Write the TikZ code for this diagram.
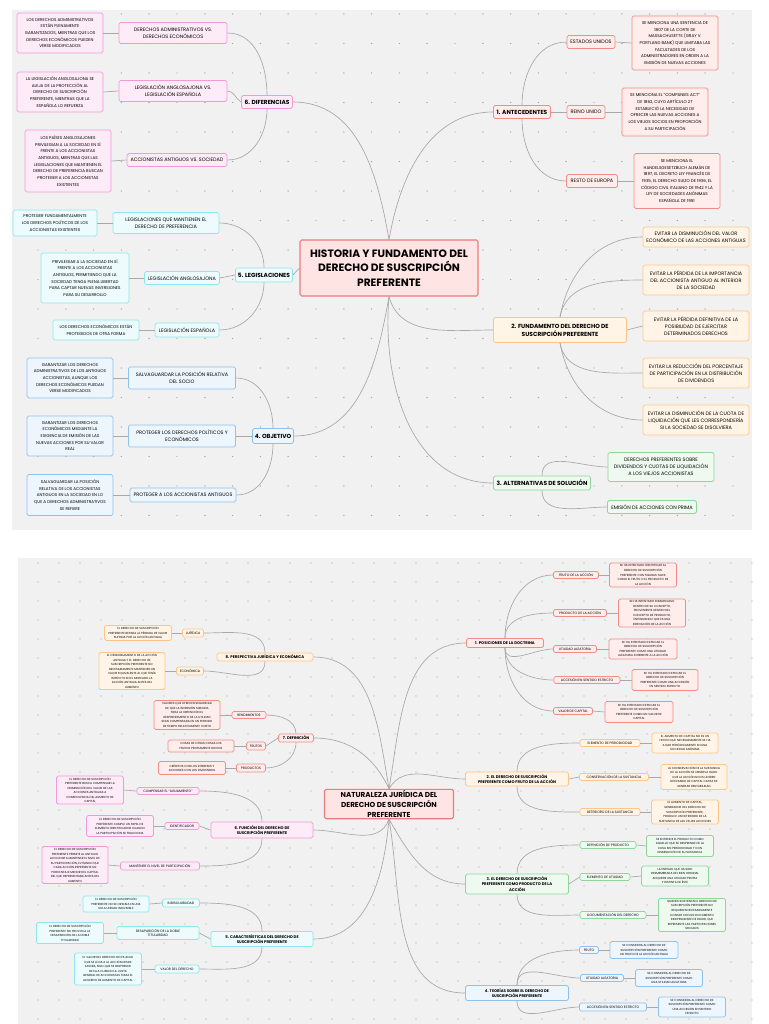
\documentclass[tikz,border=0pt]{standalone}
\usepackage{fontspec}
\setmainfont{Poppins}
\definecolor{bgc}{HTML}{F1F1F1}
\definecolor{dotc}{HTML}{9DAAAA}
\definecolor{linec}{HTML}{A8A8A8}
\definecolor{redD}{HTML}{F28C86}\definecolor{redF}{HTML}{FFEDEB}
\definecolor{cenD}{HTML}{EE7B7B}\definecolor{cenF}{HTML}{FFE4E4}
\definecolor{orgD}{HTML}{FFC48A}\definecolor{orgF}{HTML}{FFF4E6}
\definecolor{grnD}{HTML}{8FD69A}\definecolor{grnF}{HTML}{EEF9F0}
\definecolor{bluD}{HTML}{8EC1EE}\definecolor{bluF}{HTML}{EEF6FD}
\definecolor{cynD}{HTML}{8EE6EC}\definecolor{cynF}{HTML}{EDFBFC}
\definecolor{pnkD}{HTML}{F29AD8}\definecolor{pnkF}{HTML}{FDEBF7}
\tikzset{
 nb/.style={draw, rounded corners=1.2pt, line width=0.6pt, align=center, inner sep=1pt},
 sred/.style={nb, draw=redD, fill=redF},
 scen/.style={nb, draw=cenD, fill=cenF, line width=0.8pt},
 sorg/.style={nb, draw=orgD, fill=orgF},
 sgrn/.style={nb, draw=grnD, fill=grnF},
 sblu/.style={nb, draw=bluD, fill=bluF},
 scyn/.style={nb, draw=cynD, fill=cynF},
 spnk/.style={nb, draw=pnkD, fill=pnkF},
 wd/.style={minimum width=#1*0.75pt},
 ht/.style={minimum height=#1*0.75pt},
 td/.style={font=\fontsize{3.1}{5}\selectfont},
 tl/.style={font=\fontsize{3.7}{5.4}\selectfont},
 tb/.style={font=\bfseries\fontsize{4.4}{6}\selectfont},
 tt/.style={font=\bfseries\fontsize{8}{11}\selectfont},
 bd/.style={font=\fontsize{2.2}{3.4}\selectfont},
 bl/.style={font=\fontsize{2.5}{3.5}\selectfont},
 bb/.style={font=\bfseries\fontsize{2.9}{4}\selectfont},
 bt/.style={font=\bfseries\fontsize{5.4}{7.4}\selectfont},
 con/.style={draw=linec, line width=0.5pt},
}
\begin{document}
\begin{tikzpicture}[x=0.75pt,y=-0.75pt]
\useasboundingbox (0,0) rectangle (768,1024);
\fill[white] (0,0) rectangle (768,1024);
\fill[bgc] (12,10) rectangle (752,530);
\fill[bgc] (18,558) rectangle (752,1024);
\foreach \i in {0,...,25}{\foreach \j in {0,...,17}{\fill[dotc] (38+\i*27.8,14+\j*29.5) circle (0.55pt);}}
\foreach \i in {0,...,34}{\foreach \j in {0,...,24}{\fill[dotc] (38+\i*21,563+\j*19) circle (0.45pt);}}

% ================= TOP =================
\node[scen,tt,wd=178,ht=56] (c) at (389,268) {HISTORIA Y FUNDAMENTO DEL\\DERECHO DE SUSCRIPCIÓN\\PREFERENTE};
% 1
\node[sred,tb,wd=57,ht=13] (b1) at (522,112) {1. ANTECEDENTES};
\node[sred,tl,wd=48,ht=13] (b1a) at (591,42) {ESTADOS UNIDOS};
\node[sred,td,wd=86,ht=54] (b1ad) at (675,43) {SE MENCIONA UNA SENTENCIA DE\\1807 DE LA CORTE DE\\MASSACHUSETTS (GRAY V.\\PORTLAND BANK) QUE LIMITABA LAS\\FACULTADES DE LOS\\ADMINISTRADORES EN ORDEN A LA\\EMISIÓN DE NUEVAS ACCIONES};
\node[sred,tl,wd=38,ht=13] (b1b) at (586,112) {REINO UNIDO};
\node[sred,td,wd=86,ht=48] (b1bd) at (665,112) {SE MENCIONA EL ``COMPANIES ACT''\\DE 1862, CUYO ARTÍCULO 27\\ESTABLECIÓ LA NECESIDAD DE\\OFRECER LAS NUEVAS ACCIONES A\\LOS VIEJOS SOCIOS EN PROPORCIÓN\\A SU PARTICIPACIÓN};
\node[sred,tl,wd=51,ht=13] (b1c) at (592,181) {RESTO DE EUROPA};
\node[sred,td,wd=86,ht=55] (b1cd) at (677,181) {SE MENCIONA EL\\HANDELSGESETZBUCH ALEMÁN DE\\1897, EL DECRETO LEY FRANCÉS DE\\1935, EL DERECHO SUIZO DE 1936, EL\\CÓDIGO CIVIL ITALIANO DE 1942 Y LA\\LEY DE SOCIEDADES ANÓNIMAS\\ESPAÑOLA DE 1951};
% 2
\node[sorg,tb,wd=133,ht=25] (b2) at (560,330) {2. FUNDAMENTO DEL DERECHO DE\\SUSCRIPCIÓN PREFERENTE};
\node[sorg,tl,wd=106,ht=20] (b2a) at (696,237) {EVITAR LA DISMINUCIÓN DEL VALOR\\ECONÓMICO DE LAS ACCIONES ANTIGUAS};
\node[sorg,tl,wd=106,ht=30] (b2b) at (696,280) {EVITAR LA PÉRDIDA DE LA IMPORTANCIA\\DEL ACCIONISTA ANTIGUO AL INTERIOR\\DE LA SOCIEDAD};
\node[sorg,tl,wd=106,ht=30] (b2c) at (696,326) {EVITAR LA PÉRDIDA DEFINITIVA DE LA\\POSIBILIDAD DE EJERCITAR\\DETERMINADOS DERECHOS};
\node[sorg,tl,wd=106,ht=30] (b2d) at (696,373) {EVITAR LA REDUCCIÓN DEL PORCENTAJE\\DE PARTICIPACIÓN EN LA DISTRIBUCIÓN\\DE DIVIDENDOS};
\node[sorg,tl,wd=106,ht=30] (b2e) at (696,420) {EVITAR LA DISMINUCIÓN DE LA CUOTA DE\\LIQUIDACIÓN QUE LES CORRESPONDERÍA\\SI LA SOCIEDAD SE DISOLVIERA};
% 3
\node[sgrn,tb,wd=97,ht=14] (b3) at (542,483) {3. ALTERNATIVAS DE SOLUCIÓN};
\node[sgrn,tl,wd=106,ht=29] (b3a) at (661,467) {DERECHOS PREFERENTES SOBRE\\DIVIDENDOS Y CUOTAS DE LIQUIDACIÓN\\A LOS VIEJOS ACCIONISTAS};
\node[sgrn,tl,wd=89,ht=13] (b3b) at (652,507) {EMISIÓN DE ACCIONES CON PRIMA};
% 4
\node[sblu,tb,wd=41,ht=15] (b4) at (273,436) {4. OBJETIVO};
\node[sblu,tl,wd=107,ht=22] (b4a) at (182,378) {SALVAGUARDAR LA POSICIÓN RELATIVA\\DEL SOCIO};
\node[sblu,td,wd=86,ht=40] (b4ad) at (70,378) {GARANTIZAR LOS DERECHOS\\ADMINISTRATIVOS DE LOS ANTIGUOS\\ACCIONISTAS, AUNQUE LOS\\DERECHOS ECONÓMICOS PUEDAN\\VERSE MODIFICADOS};
\node[sblu,tl,wd=107,ht=22] (b4b) at (182,436) {PROTEGER LOS DERECHOS POLÍTICOS Y\\ECONÓMICOS};
\node[sblu,td,wd=86,ht=40] (b4bd) at (70,436) {GARANTIZAR LOS DERECHOS\\ECONÓMICOS MEDIANTE LA\\EXIGENCIA DE EMISIÓN DE LAS\\NUEVAS ACCIONES POR SU VALOR\\REAL};
\node[sblu,tl,wd=106,ht=14] (b4c) at (183,495) {PROTEGER A LOS ACCIONISTAS ANTIGUOS};
\node[sblu,td,wd=86,ht=41] (b4cd) at (70,495) {SALVAGUARDAR LA POSICIÓN\\RELATIVA DE LOS ACCIONISTAS\\ANTIGUOS EN LA SOCIEDAD EN LO\\QUE A DERECHOS ADMINISTRATIVOS\\SE REFIERE};
% 5
\node[scyn,tb,wd=57,ht=14] (b5) at (264,275) {5. LEGISLACIONES};
\node[scyn,tl,wd=106,ht=21] (b5a) at (166,223) {LEGISLACIONES QUE MANTIENEN EL\\DERECHO DE PREFERENCIA};
\node[scyn,td,wd=84,ht=26] (b5ad) at (55,223) {PROTEGER FUNDAMENTALMENTE\\LOS DERECHOS POLÍTICOS DE LOS\\ACCIONISTAS EXISTENTES};
\node[scyn,tl,wd=75,ht=13] (b5b) at (182,278) {LEGISLACIÓN ANGLOSAJONA};
\node[scyn,td,wd=88,ht=50] (b5bd) at (85,278) {PRIVILEGIAR A LA SOCIEDAD EN SÍ\\FRENTE A LOS ACCIONISTAS\\ANTIGUOS, PERMITIENDO QUE LA\\SOCIEDAD TENGA PLENA LIBERTAD\\PARA CAPTAR NUEVAS INVERSIONES\\PARA SU DESARROLLO};
\node[scyn,tl,wd=64,ht=14] (b5c) at (187,330) {LEGISLACIÓN ESPAÑOLA};
\node[scyn,td,wd=86,ht=20] (b5cd) at (96,330) {LOS DERECHOS ECONÓMICOS ESTÁN\\PROTEGIDOS DE OTRA FORMA};
% 6
\node[spnk,tb,wd=51,ht=13] (b6) at (267,102) {6. DIFERENCIAS};
\node[spnk,tl,wd=108,ht=21] (b6a) at (173,33) {DERECHOS ADMINISTRATIVOS VS.\\DERECHOS ECONÓMICOS};
\node[spnk,td,wd=86,ht=40] (b6ad) at (60,33) {LOS DERECHOS ADMINISTRATIVOS\\ESTÁN PLENAMENTE\\GARANTIZADOS, MIENTRAS QUE LOS\\DERECHOS ECONÓMICOS PUEDEN\\VERSE MODIFICADOS};
\node[spnk,tl,wd=108,ht=21] (b6b) at (173,91) {LEGISLACIÓN ANGLOSAJONA VS.\\LEGISLACIÓN ESPAÑOLA};
\node[spnk,td,wd=86,ht=40] (b6bd) at (60,92) {LA LEGISLACIÓN ANGLOSAJONA SE\\ALEJA DE LA PROTECCIÓN AL\\DERECHO DE SUSCRIPCIÓN\\PREFERENTE, MIENTRAS QUE LA\\ESPAÑOLA LO REFUERZA};
\node[spnk,tl,wd=100,ht=13] (b6c) at (177,160) {ACCIONISTAS ANTIGUOS VS. SOCIEDAD};
\node[spnk,td,wd=86,ht=62] (b6cd) at (68,161) {LOS PAÍSES ANGLOSAJONES\\PRIVILEGIAN A LA SOCIEDAD EN SÍ\\FRENTE A LOS ACCIONISTAS\\ANTIGUOS, MIENTRAS QUE LAS\\LEGISLACIONES QUE MANTIENEN EL\\DERECHO DE PREFERENCIA BUSCAN\\PROTEGER A LOS ACCIONISTAS\\EXISTENTES};

\begin{pgfinterruptboundingbox}
\path[con] (c.north) to[out=80,in=180] (b1.west);
\path[con] (c.north) to[out=100,in=0] (b6.east);
\path[con] (c.south) to[out=-75,in=180] (b2.west);
\path[con] (c.south) to[out=-95,in=180] (b3.west);
\path[con] (c.south) to[out=-100,in=0] (b4.east);
\path[con] (c.west) -- (b5.east);
\path[con] (b1.north) to[out=90,in=180] (b1a.west);
\path[con] (b1.east) -- (b1b.west);
\path[con] (b1.south) to[out=-90,in=180] (b1c.west);
\path[con] (b1a.east) -- (b1ad.west);
\path[con] (b1b.east) -- (b1bd.west);
\path[con] (b1c.east) -- (b1cd.west);
\path[con] (b2.north) to[out=80,in=180] (b2a.west);
\path[con] (b2.north) to[out=80,in=180] (b2b.west);
\path[con] (b2.east) -- (b2c.west);
\path[con] (b2.south) to[out=-80,in=180] (b2d.west);
\path[con] (b2.south) to[out=-80,in=180] (b2e.west);
\path[con] (b3.north) to[out=90,in=180] (b3a.west);
\path[con] (b3.south) to[out=-90,in=180] (b3b.west);
\path[con] (b4.north) to[out=90,in=0] (b4a.east);
\path[con] (b4.west) -- (b4b.east);
\path[con] (b4.south) to[out=-90,in=0] (b4c.east);
\path[con] (b4a.west) -- (b4ad.east);
\path[con] (b4b.west) -- (b4bd.east);
\path[con] (b4c.west) -- (b4cd.east);
\path[con] (b5.north) to[out=90,in=0] (b5a.east);
\path[con] (b5.west) -- (b5b.east);
\path[con] (b5.south) to[out=-90,in=0] (b5c.east);
\path[con] (b5a.west) -- (b5ad.east);
\path[con] (b5b.west) -- (b5bd.east);
\path[con] (b5c.west) -- (b5cd.east);
\path[con] (b6.north) to[out=90,in=0] (b6a.east);
\path[con] (b6.west) to[out=150,in=0] (b6b.east);
\path[con] (b6.south) to[out=-90,in=0] (b6c.east);
\path[con] (b6a.west) -- (b6ad.east);
\path[con] (b6b.west) -- (b6bd.east);
\path[con] (b6c.west) -- (b6cd.east);
\end{pgfinterruptboundingbox}

% ================= BOTTOM =================
\node[scen,bt,wd=129,ht=29] (k) at (389,804) {NATURALEZA JURÍDICA DEL\\DERECHO DE SUSCRIPCIÓN\\PREFERENTE};
% P1
\node[sred,bb,wd=77,ht=9] (p1) at (505,643) {1. POSICIONES DE LA DOCTRINA};
\node[sred,bl,wd=45,ht=7] (p1a) at (576,575) {FRUTO DE LA ACCIÓN};
\node[sred,bd,wd=67,ht=24] (p1ad) at (643,575) {SE HA INTENTADO IDENTIFICAR AL\\DERECHO DE SUSCRIPCIÓN\\PREFERENTE CON FIGURAS TALES\\COMO EL FRUTO O EL PRODUCTO DE\\LA ACCIÓN};
\node[sred,bl,wd=53,ht=7] (p1b) at (580,613) {PRODUCTO DE LA ACCIÓN};
\node[sred,bd,wd=67,ht=28] (p1bd) at (652,613) {SE HA INTENTADO ENMARCARLO\\DENTRO DE SU CONCEPTO,\\PROVENIENTE DENTRO DEL\\CONCEPTO DE PRODUCTO,\\ENTENDIENDO QUE ES UNA\\DERIVACIÓN DE LA ACCIÓN};
\node[sred,bl,wd=43,ht=7] (p1c) at (575,649) {UTILIDAD ALEATORIA};
\node[sred,bd,wd=68,ht=20] (p1cd) at (643,649) {SE HA INTENTADO EXPLICAR EL\\DERECHO DE SUSCRIPCIÓN\\PREFERENTE COMO UNA UTILIDAD\\ALEATORIA INHERENTE A LA ACCIÓN};
\node[sred,bl,wd=66,ht=7] (p1d) at (587,680) {ACCESIÓN EN SENTIDO ESTRICTO};
\node[sred,bd,wd=66,ht=21] (p1dd) at (665,680) {SE HA INTENTADO EXPLICAR EL\\DERECHO DE SUSCRIPCIÓN\\PREFERENTE COMO UNA ACCESIÓN\\EN SENTIDO ESTRICTO};
\node[sred,bl,wd=39,ht=7] (p1e) at (573,711) {VALOR DE CAPITAL};
\node[sred,bd,wd=68,ht=21] (p1ed) at (639,712) {SE HA INTENTADO EXPLICAR EL\\DERECHO DE SUSCRIPCIÓN\\PREFERENTE COMO UN VALOR DE\\CAPITAL};
% P2
\node[sorg,bb,wd=103,ht=14] (p2) at (517,779) {2. EL DERECHO DE SUSCRIPCIÓN\\PREFERENTE COMO FRUTO DE LA ACCIÓN};
\node[sorg,bl,wd=60,ht=7] (p2a) at (610,743) {ELEMENTO DE PERIODICIDAD};
\node[sorg,bd,wd=66,ht=20] (p2ad) at (685,743) {EL AUMENTO DE CAPITAL NO ES UN\\HECHO QUE NECESARIAMENTE SE HA\\A DAR PERIÓDICAMENTE EN UNA\\SOCIEDAD ANÓNIMA};
\node[sorg,bl,wd=69,ht=7] (p2b) at (614,777) {CONSERVACIÓN DE LA SUSTANCIA};
\node[sorg,bd,wd=66,ht=25] (p2bd) at (694,777) {LA CONSERVACIÓN DE LA SUSTANCIA\\DE LA ACCIÓN SE OBSERVA DADO\\QUE LA ACCIÓN NO ES UN BIEN\\NECESARIO DE CAPITAL CAPAZ DE\\GENERAR RENTABILIDAD};
\node[sorg,bl,wd=60,ht=7] (p2c) at (610,812) {DETERIORO DE LA SUSTANCIA};
\node[sorg,bd,wd=67,ht=24] (p2cd) at (685,812) {EL AUMENTO DE CAPITAL,\\GENERADOR DEL DERECHO DE\\SUSCRIPCIÓN PREFERENTE,\\PRODUCE UN DETERIORO DE LA\\SUSTANCIA DE LAS VIEJAS ACCIONES};
% P3
\node[sgrn,bb,wd=103,ht=20] (p3) at (517,884) {3. EL DERECHO DE SUSCRIPCIÓN\\PREFERENTE COMO PRODUCTO DE LA\\ACCIÓN};
\node[sgrn,bl,wd=56,ht=7] (p3a) at (608,845) {DEFINICIÓN DE PRODUCTO};
\node[sgrn,bd,wd=67,ht=21] (p3ad) at (680,846) {SE ENTIENDE EL PRODUCTO COMO\\AQUELLO QUE SE DESPRENDE DE LA\\COSA SIN PERIODICIDAD Y CON\\DISMINUCIÓN DE SU SUSTANCIA};
\node[sgrn,bl,wd=50,ht=7] (p3b) at (605,877) {ELEMENTO DE UTILIDAD};
\node[sgrn,bd,wd=67,ht=20] (p3bd) at (675,876) {LA ENTIDAD QUE HA SIDO\\DESMEMBRADA DEL BIEN ORIGINAL\\ADQUIERE UNA UTILIDAD PROPIA\\Y DISTINTA DE ÉSTE};
\node[sgrn,bl,wd=66,ht=7] (p3c) at (613,915) {DOCUMENTACIÓN DEL DERECHO};
\node[sgrn,bd,wd=67,ht=33] (p3cd) at (692,915) {QUIENES SOSTIENEN EL DERECHO DE\\SUSCRIPCIÓN PREFERENTE NO\\REQUIEREN NECESARIAMENTE\\CONTAR CON UN DOCUMENTO\\INDEPENDIENTE DE RIGOR, QUE\\REPRESENTE LAS PARTICIPACIONES\\SOCIALES};
% P4
\node[sblu,bb,wd=103,ht=15] (p4) at (517,993) {4. TEORÍAS SOBRE EL DERECHO DE\\SUSCRIPCIÓN PREFERENTE};
\node[sblu,bl,wd=19,ht=7] (p4a) at (589,950) {FRUTO};
\node[sblu,bd,wd=68,ht=17] (p4ad) at (644,950) {SE CONSIDERA AL DERECHO DE\\SUSCRIPCIÓN PREFERENTE COMO\\UN FRUTO DE LA ACCIÓN ANTIGUA};
\node[sblu,bl,wd=43,ht=7] (p4b) at (602,978) {UTILIDAD ALEATORIA};
\node[sblu,bd,wd=67,ht=17] (p4bd) at (669,978) {SE CONSIDERA AL DERECHO DE\\SUSCRIPCIÓN PREFERENTE COMO\\UNA UTILIDAD ALEATORIA};
\node[sblu,bl,wd=67,ht=8] (p4c) at (613,1007) {ACCESIÓN EN SENTIDO ESTRICTO};
\node[sblu,bd,wd=67,ht=20] (p4cd) at (692,1007) {SE CONSIDERA AL DERECHO DE\\SUSCRIPCIÓN PREFERENTE COMO\\UNA ACCESIÓN EN SENTIDO\\ESTRICTO};
% L8
\node[sorg,bb,wd=96,ht=8] (l8) at (265,657) {8. PERSPECTIVA JURÍDICA Y ECONÓMICA};
\node[sorg,bl,wd=21,ht=8] (l8a) at (193,633) {JURÍDICA};
\node[sorg,bd,wd=67,ht=15] (l8ad) at (138,633) {EL DERECHO DE SUSCRIPCIÓN\\PREFERENTE REPARA LA PÉRDIDA DE VALOR\\SUFRIDA POR LA ACCIÓN ANTIGUA};
\node[sorg,bl,wd=27,ht=8] (l8b) at (190,671) {ECONÓMICA};
\node[sorg,bd,wd=66,ht=37] (l8bd) at (132,671) {EL DESDOBLAMIENTO DE LA ACCIÓN\\ANTIGUA Y EL DERECHO DE\\SUSCRIPCIÓN PREFERENTE NO\\NECESARIAMENTE MANTIENEN UN\\VALOR EQUIVALENTE AL QUE TENÍA\\IMPLÍCITO EN EL MERCADO LA\\ACCIÓN ANTIGUA ANTES DEL\\AUMENTO};
% L7
\node[sred,bb,wd=35,ht=8] (l7) at (296,738) {7. DEFINICIÓN};
\node[sred,bl,wd=34,ht=7] (l7a) at (249,715) {RENDIMIENTOS};
\node[sred,bd,wd=66,ht=29] (l7ad) at (187,715) {VALORES QUE OFRECEN SEGURIDAD\\DE QUE LA INVERSIÓN SURGIDA\\PARA LA OBTENCIÓN EL\\DESPRENDIMIENTO DE LA UTILIDAD\\SEAN COMPENSADA EN UN PERIODO\\DE TIEMPO RELATIVAMENTE CORTO};
\node[sred,bl,wd=19,ht=8] (l7b) at (256,746) {FRUTOS};
\node[sred,bd,wd=66,ht=12] (l7bd) at (201,746) {COSAS DE OTRAS COSAS LOS\\FRUTOS PROPIAMENTE DICHOS};
\node[sred,bl,wd=29,ht=8] (l7c) at (251,768) {PRODUCTOS};
\node[sred,bd,wd=67,ht=13] (l7cd) at (192,768) {CRÉDITOS CON LOS INTERESES Y\\ACCIONES CON LOS DIVIDENDOS};
% L6
\node[spnk,bb,wd=102,ht=16] (l6) at (262,830) {6. FUNCIÓN DEL DERECHO DE\\SUSCRIPCIÓN PREFERENTE};
\node[spnk,bl,wd=62,ht=7] (l6a) at (168,791) {COMPENSAR EL ``AGUAMIENTO''};
\node[spnk,bd,wd=67,ht=28] (l6ad) at (90,790) {EL DERECHO DE SUSCRIPCIÓN\\PREFERENTE BUSCA COMPENSAR LA\\DISMINUCIÓN DEL VALOR DE LAS\\ACCIONES ANTIGUAS A\\CONSECUENCIA DEL AUMENTO DE\\CAPITAL};
\node[spnk,bl,wd=34,ht=7] (l6b) at (182,826) {IDENTIFICADOR};
\node[spnk,bd,wd=67,ht=21] (l6bd) at (120,826) {EL DERECHO DE SUSCRIPCIÓN\\PREFERENTE CUMPLE UN PAPEL DE\\ELEMENTO IDENTIFICADOR CUANDO\\LA PARTICIPACIÓN SE FRACCIONA};
\node[spnk,bl,wd=79,ht=8] (l6c) at (160,866) {MANTENER EL NIVEL DE PARTICIPACIÓN};
\node[spnk,bd,wd=66,ht=37] (l6cd) at (75,865) {EL DERECHO DE SUSCRIPCIÓN\\PREFERENTE PERMITE AL ANTIGUO\\ACCIONISTA MANTENER EL NIVEL DE\\SU PARTICIPACIÓN, EVITANDO QUE\\CADA ACCIÓN REPRESENTE UN\\PORCENTAJE MENOR DEL CAPITAL\\DEL QUE REPRESENTABA ANTES DEL\\AUMENTO};
% L5
\node[scyn,bb,wd=102,ht=15] (l5) at (262,939) {5. CARACTERÍSTICAS DEL DERECHO DE\\SUSCRIPCIÓN PREFERENTE};
\node[scyn,bl,wd=37,ht=8] (l5a) at (181,903) {INDISOLUBILIDAD};
\node[scyn,bd,wd=66,ht=16] (l5ad) at (116,904) {EL DERECHO DE SUSCRIPCIÓN\\PREFERENTE NO SE ORIGINA EN UNA\\SOLA UNIDAD INDIVISIBLE};
\node[scyn,bl,wd=82,ht=13] (l5b) at (158,933) {DESAPARICIÓN DE LA DOBLE\\TITULARIDAD};
\node[scyn,bd,wd=67,ht=21] (l5bd) at (70,933) {EL DERECHO DE SUSCRIPCIÓN\\PREFERENTE NO PROVOCA LA\\DESAPARICIÓN DE LA DOBLE\\TITULARIDAD};
\node[scyn,bl,wd=44,ht=8] (l5c) at (177,969) {VALOR DEL DERECHO};
\node[scyn,bd,wd=67,ht=32] (l5cd) at (108,969) {EL VALOR DEL DERECHO NO ES ALGO\\QUE SE LE DA A LA ACCIÓN DESDE\\AFUERA, SINO QUE SE DESPRENDE\\DE ELLA CUANDO LA JUNTA\\GENERAL DE ACCIONISTAS TOMA EL\\ACUERDO DE AUMENTO DE CAPITAL};

\begin{pgfinterruptboundingbox}
\path[con] (k.north) to[out=80,in=180] (p1.west);
\path[con] (k.north) to[out=60,in=180] (p2.west);
\path[con] (k.south) to[out=-60,in=180] (p3.west);
\path[con] (k.south) to[out=-80,in=180] (p4.west);
\path[con] (k.north) to[out=100,in=0] (l8.east);
\path[con] (k.north) to[out=115,in=0] (l7.east);
\path[con] (k.south) to[out=-110,in=0] (l6.east);
\path[con] (k.south) to[out=-95,in=0] (l5.east);
\foreach \b/\ch in {p1/p1a,p1/p1b,p2/p2a,p3/p3a,p4/p4a,p4/p4b}{\path[con] (\b.north) to[out=90,in=180] (\ch.west);}
\foreach \b/\ch in {p1/p1c,p1/p1d,p1/p1e,p2/p2c,p3/p3c,p4/p4c}{\path[con] (\b.south) to[out=-90,in=180] (\ch.west);}
\foreach \b/\ch in {p2/p2b,p3/p3b}{\path[con] (\b.east) -- (\ch.west);}
\foreach \ch in {p1a,p1b,p1c,p1d,p1e,p2a,p2b,p2c,p3a,p3b,p3c,p4a,p4b,p4c}{\path[con] (\ch.east) -- (\ch d.west);}
\foreach \b/\ch in {l8/l8a,l7/l7a,l6/l6a,l5/l5a}{\path[con] (\b.north) to[out=90,in=0] (\ch.east);}
\foreach \b/\ch in {l8/l8b,l7/l7c,l6/l6c,l5/l5c}{\path[con] (\b.south) to[out=-90,in=0] (\ch.east);}
\foreach \b/\ch in {l7/l7b,l6/l6b,l5/l5b}{\path[con] (\b.west) -- (\ch.east);}
\foreach \ch in {l8a,l8b,l7a,l7b,l7c,l6a,l6b,l6c,l5a,l5b,l5c}{\path[con] (\ch.west) -- (\ch d.east);}
\end{pgfinterruptboundingbox}
\end{tikzpicture}
\end{document}
